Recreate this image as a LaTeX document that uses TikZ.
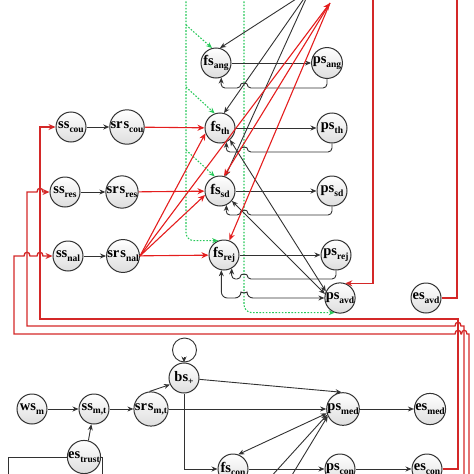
\documentclass[tikz,border=0pt]{standalone}
\usepackage{fontspec}
\setmainfont{Liberation Serif}
\usetikzlibrary{arrows.meta}
\definecolor{myred}{RGB}{228,30,30}
\definecolor{loopred}{RGB}{212,40,40}
\definecolor{mygreen}{RGB}{40,200,90}
\definecolor{mygray}{RGB}{50,50,50}
\newcommand\nl[2]{#1\raisebox{-0.5ex}{\fontsize{9.5}{9.5}\selectfont #2}}
\begin{document}
\begin{tikzpicture}[x=1pt,y=-1pt,
 st/.style={circle,draw=mygray,line width=1pt,minimum size=30pt,inner sep=0pt,top color=white,bottom color=black!13,font=\fontsize{14.5}{14.5}\selectfont\bfseries},
 blk/.style={draw=mygray,line width=0.9pt},
 ba/.style={blk,-{Stealth[length=6pt,width=5pt]}},
 bb/.style={blk,{Stealth[length=6pt,width=5pt]}-{Stealth[length=6pt,width=5pt]}},
 ra/.style={draw=myred,line width=1.1pt,-{Stealth[length=7pt,width=6pt]}},
 rl/.style={draw=loopred,line width=1.3pt},
 rla/.style={rl,-{Stealth[length=7pt,width=6pt]}},
 ga/.style={draw=mygreen,line width=1.1pt,dash pattern=on 1.6pt off 1.6pt,-{Stealth[length=6pt,width=5pt]}},
]
\useasboundingbox (0,0) rectangle (474,474);
\clip (0,0) rectangle (474,474);

% nodes
\node[st] (fsang) at (216,63) {\nl{fs}{ang}};
\node[st] (psang) at (327,63) {\nl{ps}{ang}};
\node[st] (fsth) at (220,128) {\nl{fs}{th}};
\node[st] (psth) at (332,128) {\nl{ps}{th}};
\node[st] (fssd) at (220,191) {\nl{fs}{sd}};
\node[st] (pssd) at (332,191) {\nl{ps}{sd}};
\node[st] (fsrej) at (224,255) {\nl{fs}{rej}};
\node[st] (psrej) at (336,255) {\nl{ps}{rej}};
\node[st] (psavd) at (340,298) {\nl{ps}{avd}};
\node[st] (esavd) at (426,298) {\nl{es}{avd}};
\node[st] (sscou) at (71,127) {\nl{ss}{cou}};
\node[st] (srscou) at (127,127) {\nl{sr\kern1pt s}{cou}};
\node[st] (ssres) at (65,192) {\nl{ss}{res}};
\node[st] (srsres) at (122,192) {\nl{sr\kern1pt s}{res}};
\node[st] (ssnal) at (68,256) {\nl{ss}{nal}};
\node[st] (srsnal) at (123,256) {\nl{sr\kern1pt s}{nal}};
\node[st] (wsm) at (32,409) {\nl{ws}{m}};
\node[st] (ssmt) at (94,409) {\nl{ss}{m,t}};
\node[st] (srsmt) at (151,409) {\nl{sr\kern1pt s}{m,t}};
\node[st] (bs) at (184,378) {\nl{bs}{+}};
\node[st] (estrust) at (84,457) {\nl{es}{trust}};
\node[st] (psmed) at (343,409) {\nl{ps}{med}};
\node[st] (esmed) at (430,409) {\nl{es}{med}};
\node[st] (fscon) at (233,469) {\nl{fs}{con}};
\node[st] (pscon) at (340,469) {\nl{ps}{con}};
\node[st] (escon) at (427,469) {\nl{es}{con}};

\coordinate (P) at (310,-10);
\coordinate (T) at (330,3);
\coordinate (b1) at (268,480);
\coordinate (b2) at (289,480);

% green dotted
\draw[ga,rounded corners=8] (186,-5) |- (fsrej.112);
\draw[ga] (186,25) -- (fsang.105);
\draw[ga] (186,87) -- (fsth.110);
\draw[ga] (186,150) -- (fssd.110);
\draw[ga,rounded corners=8] (244,-5) |- (psavd.250);

% black ss -> srs
\draw[ba] (sscou) -- (srscou);
\draw[ba] (ssres) -- (srsres);
\draw[ba] (ssnal) -- (srsnal);

% black fs -> ps
\draw[ba] (fsang) -- (psang);
\draw[ba] (fsth) -- (psth);
\draw[ba] (fssd) -- (pssd);
\draw[ba] (fsrej) -- (psrej);

% feedback loops with hops over the green line
\draw[ba,rounded corners=4] (psang.south) -- (327,88) -- (247,88) .. controls (247,83) and (241,83) .. (241,88) -- (221,88) -- (fsang.-70);
\draw[ba,rounded corners=4] (psth.south) -- (332,152) -- (247,152) .. controls (247,147) and (241,147) .. (241,152) -- (226,152) -- (fsth.-65);
\draw[ba,rounded corners=4] (pssd.south) -- (332,215) -- (247,215) .. controls (247,210) and (241,210) .. (241,215) -- (226,215) -- (fssd.-65);
\draw[ba,rounded corners=4] (psrej.south) -- (336,279) -- (247,279) .. controls (247,274) and (241,274) .. (241,279) -- (231.5,279) -- (fsrej.-60);
\draw[bb,rounded corners=6] (fsrej.-100) -- (221.4,298) -- (241,298) .. controls (241,293) and (247,293) .. (247,298) -- (psavd.west);
\draw[bb] (fsth.-50) -- (psavd.155);
\draw[bb] (fssd.-40) -- (psavd.165);

% black from top
\draw[ba] (P) -- (fsang.75);
\draw[ba] (P) -- (fsth.75);
\draw[ba] (P) -- (fssd.70);

% red
\draw[ra] (srscou) -- (fsth);
\draw[ra] (srsres) -- (fssd);
\draw[ra] (srsnal) -- (fsrej);
\draw[ra] (srsnal.east) -- (fsth.200);
\draw[ra] (srsnal.east) -- (fssd.195);
\draw[ra] (srsnal.east) -- (T);
\draw[ra] (T) -- (fssd.75);
\draw[ra] (T) -- (fsrej.70);
\draw[rla] (373,-5) |- (psavd.70);
\draw[rl] (esavd.east) -- (457,298) -- (457,-5);

% bottom red loops
\draw[rla] (escon.east) -- (458,469) -- (458,319) -- (40,319) -- (40,127) -- (sscou.west);
\draw[rla] (464,480) -- (464,326) -- (461,326) .. controls (461,321) and (455,321) .. (455,326) -- (27,326) -- (27,192) -- (37,192) .. controls (37,187) and (43,187) .. (43,192) -- (ssres.west);
\draw[rla] (469,480) -- (469,334) -- (467,334) .. controls (467,329) and (461.5,329) .. (461.5,334) -- (461,334) .. controls (461,329) and (455,329) .. (455,334) -- (14,334) -- (14,256) -- (24,256) .. controls (24,251) and (30,251) .. (30,256) -- (37,256) .. controls (37,251) and (43,251) .. (43,256) -- (ssnal.west);

% bottom black
\draw[ba] (wsm) -- (ssmt);
\draw[ba] (ssmt) -- (srsmt);
\draw[ba] (estrust.75) -- (ssmt.-100);
\draw[ba] (srsmt.95) -- (bs.205);
\draw (184.5,350) [blk] circle[radius=12];
\draw[ba] (184,357) -- (bs.north);
\draw[ba] (bs.-5) -- (psmed.95);
\draw[ba] (srsmt) -- (psmed);
\draw[ba] (bs.south) |- (fscon.west);
\draw[bb] (psmed.195) -- (fscon.70);
\draw[ba] (b1) -- (psmed.200);
\draw[ba] (b2) -- (psmed.205);
\draw[ba] (fscon) -- (pscon);
\draw[ba] (pscon) -- (escon);
\draw[ba] (psmed) -- (esmed);
\draw[blk] (estrust.west) -- (8,457) -- (8,480);
\draw[blk] (estrust.east) -- (102,457) -- (102,480);
\end{tikzpicture}
\end{document}
